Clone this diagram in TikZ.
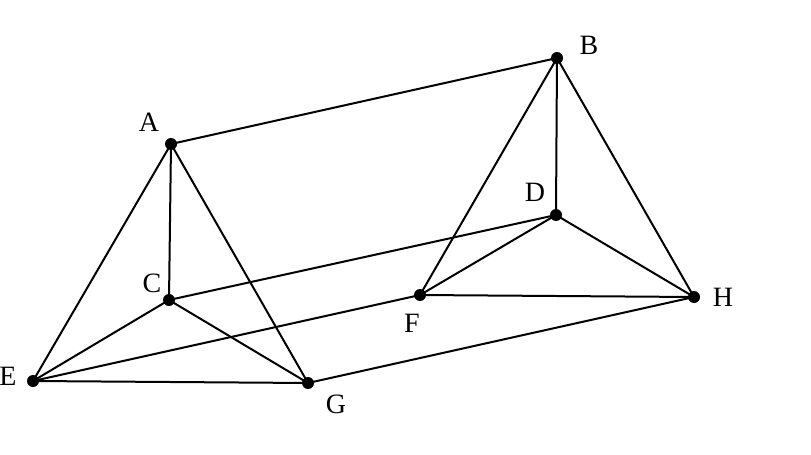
\documentclass[tikz,border=0pt]{standalone}
\usepackage{fontspec}
\setmainfont{Liberation Serif}
\begin{document}
\begin{tikzpicture}[x=1pt,y=-1pt,
  pt/.style={circle,fill=black,inner sep=0pt,minimum size=12pt},
  lab/.style={font=\fontsize{28}{32}\selectfont},
  edge/.style={line width=2pt}]
\useasboundingbox (0,0) rectangle (811,455);
\node[pt] (A) at (171,144) {};
\node[pt] (B) at (557,58) {};
\node[pt] (C) at (169,300) {};
\node[pt] (D) at (556,215) {};
\node[pt] (E) at (33,381) {};
\node[pt] (F) at (420,295) {};
\node[pt] (G) at (308,383) {};
\node[pt] (H) at (694,297) {};
\foreach \a/\b in {A/B,A/C,A/E,A/G,B/D,B/F,B/H,C/D,C/E,C/G,D/F,D/H,E/F,E/G,F/H,G/H}
  \draw[edge] (\a.center) -- (\b.center);
\node[lab] (lA) at (149,122) {A};
\node[lab] (lB) at (589,45) {B};
\node[lab] (lC) at (152,283) {C};
\node[lab] (lD) at (535,192) {D};
\node[lab] (lE) at (8,376) {E};
\node[lab] (lF) at (412,323) {F};
\node[lab] (lG) at (336,404) {G};
\node[lab] (lH) at (723,297) {H};
\end{tikzpicture}
\end{document}
